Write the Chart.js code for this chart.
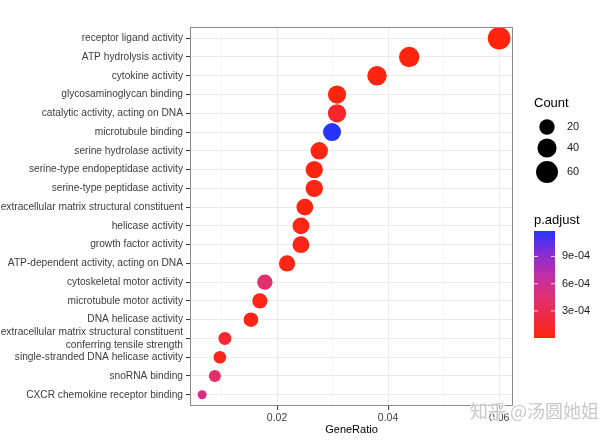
<!DOCTYPE html>
<html lang="en">
<head>
  <meta charset="UTF-8">
  <title>GO dot plot</title>
  <style>
    html, body { margin: 0; padding: 0; background: #fff; }
    #wrap { width: 600px; height: 440px; }
  </style>
</head>
<body>
<div id="wrap"><canvas id="myChart" width="600" height="440"></canvas></div>

<script src="https://cdn.jsdelivr.net/npm/chart.js"></script>
<script>
  // terms from top to bottom
  var terms = [
    'receptor ligand activity',
    'ATP hydrolysis activity',
    'cytokine activity',
    'glycosaminoglycan binding',
    'catalytic activity, acting on DNA',
    'microtubule binding',
    'serine hydrolase activity',
    'serine-type endopeptidase activity',
    'serine-type peptidase activity',
    'extracellular matrix structural constituent',
    'helicase activity',
    'growth factor activity',
    'ATP-dependent activity, acting on DNA',
    'cytoskeletal motor activity',
    'microtubule motor activity',
    'DNA helicase activity',
    ['extracellular matrix structural constituent', 'conferring tensile strength'],
    'single-stranded DNA helicase activity',
    'snoRNA binding',
    'CXCR chemokine receptor binding'
  ];
  var geneRatio = [0.0600, 0.0438, 0.0380, 0.0308, 0.0308, 0.0299, 0.0276, 0.0267, 0.0267, 0.0250,
                   0.0243, 0.0243, 0.0218, 0.0178, 0.0169, 0.0153, 0.0106, 0.0097, 0.0088, 0.0065];
  var counts = [66, 48, 42, 34, 34, 33, 30, 29, 29, 27, 27, 27, 24, 20, 19, 17, 12, 11, 10, 7];
  var pAdjust = [2e-6, 1e-5, 2e-5, 1e-5, 1.2e-4, 1.18e-3, 3e-5, 2e-5, 3e-5, 2e-5,
                 4e-5, 4e-5, 3e-5, 4.3e-4, 5e-5, 4e-5, 1.5e-4, 6e-5, 4e-4, 5.2e-4];
  var xTicks = [0.01, 0.02, 0.03, 0.04, 0.05, 0.06];
  var xMajor = [0.02, 0.04, 0.06];
  var countBreaks = [20, 40, 60];
  var pBreaks = [3e-4, 6e-4, 9e-4];
  var pBreakLabels = ['3e-04', '6e-04', '9e-04'];

  var cMin = Math.min.apply(null, counts), cMax = Math.max.apply(null, counts);
  var pMin = Math.min.apply(null, pAdjust), pMax = Math.max.apply(null, pAdjust);

  function radius(c) {
    return 4.5 + 6.8 * Math.sqrt(Math.max(0, (c - cMin) / (cMax - cMin)));
  }

  var stops = [
    [0.00, [255, 36, 12]],
    [0.20, [240, 42, 70]],
    [0.40, [222, 48, 120]],
    [0.60, [190, 45, 170]],
    [0.80, [130, 45, 215]],
    [1.00, [40, 52, 245]]
  ];
  function colorAt(t) {
    t = Math.max(0, Math.min(1, t));
    for (var i = 1; i < stops.length; i++) {
      if (t <= stops[i][0]) {
        var a = stops[i - 1], b = stops[i];
        var f = (t - a[0]) / (b[0] - a[0]);
        var rgb = a[1].map(function (v, k) { return Math.round(v + (b[1][k] - v) * f); });
        return 'rgb(' + rgb.join(',') + ')';
      }
    }
    return 'rgb(' + stops[stops.length - 1][1].join(',') + ')';
  }
  function pColor(p) { return colorAt((p - pMin) / (pMax - pMin)); }

  var n = terms.length;
  var points = geneRatio.map(function (g, i) { return { x: g, y: n - i }; });

  var fontFam = '"Liberation Sans", Arial, Helvetica, sans-serif';

  var extras = {
    id: 'extras',
    afterDatasetsDraw: function (chart) {
      var c = chart.ctx, a = chart.chartArea;
      c.save();
      c.strokeStyle = '#8a8a8a';
      c.lineWidth = 1;
      c.strokeRect(a.left + 0.5, a.top + 0.5, a.right - a.left - 1, a.bottom - a.top - 1);
      c.restore();
    },
    afterDraw: function (chart) {
      var c = chart.ctx;
      c.save();
      // Count legend
      c.fillStyle = '#000';
      c.font = '13px ' + fontFam;
      c.textBaseline = 'middle';
      c.textAlign = 'left';
      c.fillText('Count', 534, 103);
      var ys = [127, 148, 172];
      c.font = '11px ' + fontFam;
      countBreaks.forEach(function (b, i) {
        c.beginPath();
        c.arc(547, ys[i], radius(b), 0, Math.PI * 2);
        c.fillStyle = '#000';
        c.fill();
        c.fillStyle = '#1a1a1a';
        c.fillText(String(b), 567, ys[i]);
      });
      // p.adjust colourbar
      c.font = '13px ' + fontFam;
      c.fillStyle = '#000';
      c.fillText('p.adjust', 534, 220);
      var bx = 534, bw = 21, bTop = 231, bBot = 338;
      for (var y = bTop; y < bBot; y++) {
        var t = (bBot - (y + 0.5)) / (bBot - bTop);
        c.fillStyle = colorAt(t);
        c.fillRect(bx, y, bw, 1);
      }
      c.font = '11px ' + fontFam;
      pBreaks.forEach(function (p, i) {
        var y = bBot - (p - pMin) / (pMax - pMin) * (bBot - bTop);
        c.strokeStyle = 'rgba(255,255,255,0.8)';
        c.lineWidth = 1;
        c.beginPath();
        c.moveTo(bx, y); c.lineTo(bx + 4, y);
        c.moveTo(bx + bw - 4, y); c.lineTo(bx + bw, y);
        c.stroke();
        c.fillStyle = '#1a1a1a';
        c.fillText(pBreakLabels[i], 562, y);
      });
      // watermark
      c.font = '18px "Noto Sans CJK SC", sans-serif';
      c.textBaseline = 'middle';
      c.lineWidth = 3;
      c.strokeStyle = 'rgba(255,255,255,0.7)';
      c.strokeText('知乎 @汤圆她姐', 470, 411);
      c.fillStyle = 'rgba(190,190,190,0.85)';
      c.fillText('知乎 @汤圆她姐', 470, 411);
      c.restore();
    }
  };

  var chart = new Chart(document.getElementById('myChart'), {
    type: 'scatter',
    data: {
      datasets: [{
        data: points,
        pointRadius: function (ctx) { return radius(counts[ctx.dataIndex]); },
        pointBackgroundColor: function (ctx) { return pColor(pAdjust[ctx.dataIndex]); },
        pointBorderWidth: 0,
        pointBorderColor: 'rgba(0,0,0,0)',
        clip: false
      }]
    },
    options: {
      responsive: false,
      animation: false,
      events: [],
      layout: { padding: { top: 27, right: 87, left: 0, bottom: 0 } },
      plugins: { legend: { display: false }, tooltip: { enabled: false } },
      scales: {
        x: {
          type: 'linear',
          min: 0.00432,
          max: 0.0625,
          afterBuildTicks: function (axis) {
            axis.ticks = xTicks.map(function (v) { return { value: v }; });
          },
          afterFit: function (axis) { axis.height = 34; },
          ticks: {
            autoSkip: false,
            maxRotation: 0,
            padding: 2,
            color: '#3d3d3d',
            font: { family: fontFam, size: 10.5 },
            callback: function (v) { return xMajor.indexOf(v) >= 0 ? v.toFixed(2) : ''; }
          },
          grid: {
            color: function (ctx) {
              return xMajor.indexOf(ctx.tick && ctx.tick.value) >= 0 ? '#ebebeb' : '#f2f2f2';
            },
            lineWidth: function (ctx) {
              return xMajor.indexOf(ctx.tick && ctx.tick.value) >= 0 ? 1.1 : 0.6;
            },
            tickColor: function (ctx) {
              return xMajor.indexOf(ctx.tick && ctx.tick.value) >= 0 ? '#333' : 'rgba(0,0,0,0)';
            },
            tickLength: 4,
            tickWidth: 1
          },
          border: { display: false },
          title: {
            display: true,
            text: 'GeneRatio',
            color: '#000',
            font: { family: fontFam, size: 11 },
            padding: { top: 2, bottom: 3 }
          }
        },
        y: {
          type: 'linear',
          min: 0.4,
          max: n + 0.6,
          afterBuildTicks: function (axis) {
            axis.ticks = terms.map(function (t, i) { return { value: n - i }; });
          },
          afterFit: function (axis) { axis.width = 190; },
          ticks: {
            autoSkip: false,
            padding: 3,
            color: '#3d3d3d',
            font: { family: fontFam, size: 10.2, lineHeight: 1.25 },
            callback: function (v) { return terms[n - v]; }
          },
          grid: {
            color: '#ebebeb',
            lineWidth: 1.1,
            tickColor: '#333',
            tickLength: 4,
            tickWidth: 1
          },
          border: { display: false }
        }
      }
    },
    plugins: [extras]
  });
</script>
</body>
</html>
